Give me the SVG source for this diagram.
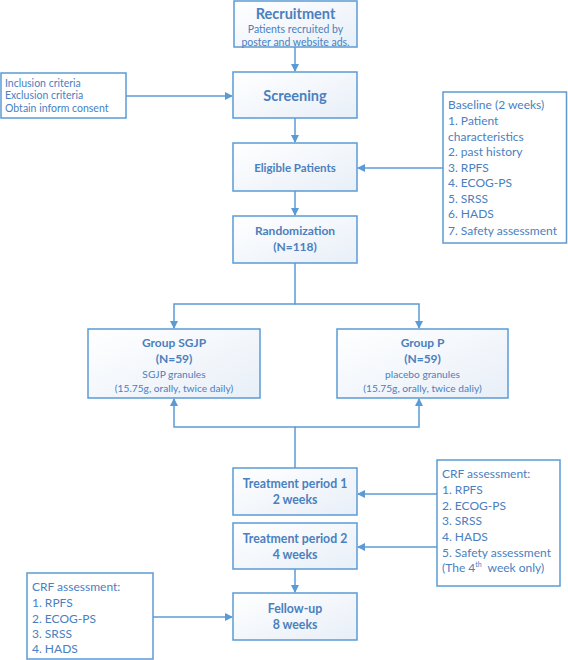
<svg xmlns="http://www.w3.org/2000/svg" width="568" height="660" viewBox="0 0 568 660">
<defs>
<linearGradient id="g" x1="0" y1="0" x2="1" y2="1">
<stop offset="0" stop-color="#ffffff"/>
<stop offset="1" stop-color="#e8eff8"/>
</linearGradient>
<marker id="a" markerWidth="8" markerHeight="8" refX="7" refY="4" orient="auto" markerUnits="userSpaceOnUse">
<path d="M0,0 L8,4 L0,8 Z" fill="#5b9bd5"/>
</marker>
<style>
.b{fill:url(#g);stroke:#5b9bd5;stroke-width:1.5}
.w{fill:#ffffff;stroke:#5b9bd5;stroke-width:1.5}
.c{fill:none;stroke:#5b9bd5;stroke-width:1.5}
text{font-family:Lato,"Liberation Sans",sans-serif;fill:#4a80bf}
.t{font-weight:bold;text-anchor:middle}
.m{text-anchor:middle}
</style>
</defs>
<rect width="568" height="660" fill="#ffffff"/>
<g id="connectors">
<path class="c" d="M295,47 V71" marker-end="url(#a)"/>
<path class="c" d="M126,96 H232" marker-end="url(#a)"/>
<path class="c" d="M295,118 V142" marker-end="url(#a)"/>
<path class="c" d="M443,168 H358" marker-end="url(#a)"/>
<path class="c" d="M295,191 V215" marker-end="url(#a)"/>
<path class="c" d="M295,263 V304 H174 V328" marker-end="url(#a)"/>
<path class="c" d="M295,304 H419 V328" marker-end="url(#a)"/>
<path class="c" d="M295,468 V427 H174 V399" marker-end="url(#a)"/>
<path class="c" d="M295,427 H419 V399" marker-end="url(#a)"/>
<path class="c" d="M437,494 H358" marker-end="url(#a)"/>
<path class="c" d="M437,547 H358" marker-end="url(#a)"/>
<path class="c" d="M295,569 V592" marker-end="url(#a)"/>
<path class="c" d="M153,617 H232" marker-end="url(#a)"/>
</g>
<g id="recruitment">
<rect class="b" x="234" y="1" width="123" height="46"/>
<text class="t" x="295.5" y="18.5" font-size="14.5">Recruitment</text>
<text class="m" x="295.5" y="32.5" font-size="10.5">Patients recruited by</text>
<text class="m" x="295.5" y="45.5" font-size="10.5">poster and website ads.</text>
</g>
<g id="screening">
<rect class="b" x="233" y="72" width="124" height="46"/>
<text class="t" x="295" y="100.5" font-size="14.5">Screening</text>
</g>
<g id="inclusion">
<rect class="w" x="1" y="73" width="125" height="45"/>
<text x="5" y="86.5" font-size="10.5">Inclusion criteria</text>
<text x="5" y="99" font-size="10.5">Exclusion criteria</text>
<text x="5" y="111.5" font-size="10.5">Obtain inform consent</text>
</g>
<g id="baseline">
<rect class="w" x="443" y="92" width="123.5" height="151"/>
<text x="448" y="109" font-size="12">Baseline (2 weeks)</text>
<text x="448" y="125" font-size="12">1. Patient</text>
<text x="448" y="140.5" font-size="12">characteristics</text>
<text x="448" y="156" font-size="12">2. past history</text>
<text x="448" y="171.5" font-size="12">3. RPFS</text>
<text x="448" y="187" font-size="12">4. ECOG-PS</text>
<text x="448" y="202.5" font-size="12">5. SRSS</text>
<text x="448" y="218" font-size="12">6. HADS</text>
<text x="448" y="235" font-size="12">7. Safety assessment</text>
</g>
<g id="eligible">
<rect class="b" x="233" y="143" width="124" height="48"/>
<text class="t" x="295" y="171.5" font-size="11.5">Eligible Patients</text>
</g>
<g id="randomization">
<rect class="b" x="233" y="216" width="124" height="47"/>
<text class="t" x="295" y="235" font-size="12">Randomization</text>
<text class="t" x="295" y="251" font-size="12">(N=118)</text>
</g>
<g id="group-sgjp">
<rect class="b" x="88" y="329" width="172" height="69"/>
<text class="t" x="174" y="347" font-size="12">Group SGJP</text>
<text class="t" x="174" y="363" font-size="12">(N=59)</text>
<text class="m" x="174" y="377.5" font-size="10.2">SGJP granules</text>
<text class="m" x="174" y="391.5" font-size="10.2">(15.75g, orally, twice daily)</text>
</g>
<g id="group-p">
<rect class="b" x="337" y="329" width="171" height="69"/>
<text class="t" x="422.5" y="347" font-size="12">Group P</text>
<text class="t" x="422.5" y="363" font-size="12">(N=59)</text>
<text class="m" x="422.5" y="377.5" font-size="10.2">placebo granules</text>
<text class="m" x="422.5" y="391.5" font-size="10.2">(15.75g, orally, twice daliy)</text>
</g>
<g id="treatment1">
<rect class="b" x="233" y="468" width="124" height="47"/>
<text class="t" x="295" y="488" font-size="12.3">Treatment period 1</text>
<text class="t" x="295" y="504" font-size="12.3">2 weeks</text>
</g>
<g id="treatment2">
<rect class="b" x="233" y="523" width="124" height="46"/>
<text class="t" x="295" y="543" font-size="12.3">Treatment period 2</text>
<text class="t" x="295" y="559" font-size="12.3">4 weeks</text>
</g>
<g id="followup">
<rect class="b" x="233" y="593" width="124" height="47"/>
<text class="t" x="295" y="613" font-size="12.3">Fellow-up</text>
<text class="t" x="295" y="629" font-size="12.3">8 weeks</text>
</g>
<g id="crf-right">
<rect class="w" x="437" y="460" width="123" height="126"/>
<text x="442" y="478" font-size="12">CRF assessment:</text>
<text x="442" y="494" font-size="12">1. RPFS</text>
<text x="442" y="509.5" font-size="12">2. ECOG-PS</text>
<text x="442" y="525" font-size="12">3. SRSS</text>
<text x="442" y="541" font-size="12">4. HADS</text>
<text x="442" y="557" font-size="12">5. Safety assessment</text>
<text x="442" y="572" font-size="12">(The 4<tspan font-size="7" dy="-5">th</tspan><tspan dy="5">&#160;&#160;week only)</tspan></text>
</g>
<g id="crf-left">
<rect class="w" x="27" y="573" width="126" height="86"/>
<text x="32" y="591" font-size="12">CRF assessment:</text>
<text x="32" y="607" font-size="12">1. RPFS</text>
<text x="32" y="623" font-size="12">2. ECOG-PS</text>
<text x="32" y="638" font-size="12">3. SRSS</text>
<text x="32" y="653" font-size="12">4. HADS</text>
</g>
</svg>
